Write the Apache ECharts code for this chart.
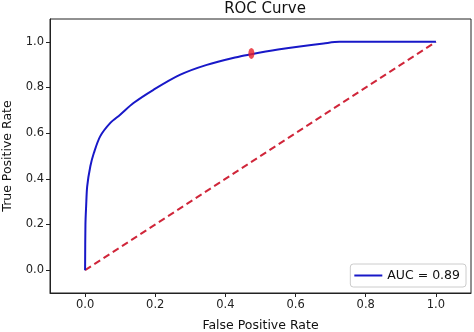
<!DOCTYPE html>
<html><head><meta charset="utf-8">
<script src="https://cdn.jsdelivr.net/npm/echarts@6/dist/echarts.min.js"></script>
<style>html,body{margin:0;padding:0;background:#fff}#c{width:474px;height:332px}</style>
</head><body><div id="c"></div>
<script>
var rocFpr = [0, 0.001, 0.003, 0.006, 0.015, 0.025, 0.043, 0.072, 0.1, 0.138, 0.195, 0.27, 0.347, 0.441, 0.474, 0.55, 0.612, 0.68, 0.725, 1.0];
var rocTpr = [0, 0.2, 0.28, 0.367, 0.455, 0.513, 0.586, 0.645, 0.681, 0.732, 0.79, 0.855, 0.899, 0.936, 0.946, 0.966, 0.98, 0.993, 1.0, 1.0];
var diagX = [0, 1];
var diagY = [0, 1];
var pointX = [0.474];
var pointY = [0.949];
var tickValues = [0, 0.2, 0.4, 0.6, 0.8, 1.0];
var aucLabel = 'AUC = 0.89';

function zip(a, b) { return a.map(function (v, i) { return [v, b[i]]; }); }
var font = 'DejaVu Sans';
var chart = echarts.init(document.getElementById('c'));
chart.setOption({
  animation: false,
  backgroundColor: '#fff',
  title: { text: 'ROC Curve', left: 260, textAlign: 'center', top: -3,
    textStyle: { fontFamily: font, fontSize: 15, fontWeight: 'normal', color: '#111' } },
  grid: { left: 50, right: 3, top: 19, bottom: 39, show: true, borderColor: '#222', borderWidth: 1,
    outerBoundsMode: 'none', containLabel: false },
  legend: {
    right: 8, bottom: 45, orient: 'vertical',
    data: [{ name: aucLabel, icon: 'rect', itemStyle: { color: '#1818c8' } }],
    itemWidth: 28, itemHeight: 2, itemGap: 4,
    padding: [5, 6, 5, 4],
    borderColor: '#ccc', borderWidth: 1, borderRadius: 3, backgroundColor: '#fff',
    textStyle: { fontFamily: font, fontSize: 12.5, color: '#111', lineHeight: 12 }
  },
  xAxis: {
    type: 'value', min: -0.1, max: 1.1,
    name: 'False Positive Rate', nameLocation: 'middle', nameGap: 26,
    nameTextStyle: { fontFamily: font, fontSize: 12.5, color: '#111' },
    axisLine: { show: true, onZero: false, lineStyle: { color: '#222' } },
    axisTick: { show: true, length: 4, customValues: tickValues, lineStyle: { color: '#222' } },
    axisLabel: { customValues: tickValues, fontFamily: font, fontSize: 11.5, color: '#222', margin: 6,
      formatter: function (v) { return v.toFixed(1); } },
    splitLine: { show: false }
  },
  yAxis: {
    type: 'value', min: -0.1, max: 1.1,
    name: 'True Positive Rate', nameLocation: 'middle', nameGap: 36,
    nameTextStyle: { fontFamily: font, fontSize: 12.5, color: '#111' },
    axisLine: { show: true, onZero: false, lineStyle: { color: '#222' } },
    axisTick: { show: true, length: 4, customValues: tickValues, lineStyle: { color: '#222' } },
    axisLabel: { customValues: tickValues, fontFamily: font, fontSize: 11.5, color: '#222', margin: 6,
      formatter: function (v) { return v.toFixed(1); } },
    splitLine: { show: false }
  },
  series: [
    { name: aucLabel, type: 'line', data: zip(rocFpr, rocTpr), smooth: 0.3, symbol: 'none',
      lineStyle: { color: '#1818c8', width: 2 }, itemStyle: { color: '#1818c8' }, z: 3 },
    { name: 'diag', type: 'line', data: zip(diagX, diagY), symbol: 'none',
      lineStyle: { color: '#d0263a', width: 2, type: [7, 4] }, z: 2 },
    { name: 'opt', type: 'scatter', data: zip(pointX, pointY), symbol: 'circle', symbolSize: [6, 11],
      itemStyle: { color: '#e8202a' }, z: 4 }
  ]
});
</script></body></html>
